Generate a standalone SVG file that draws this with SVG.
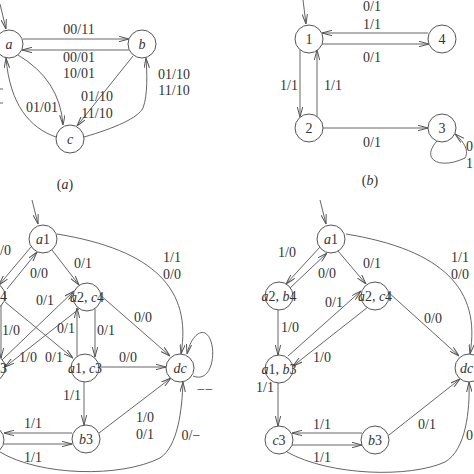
<svg xmlns="http://www.w3.org/2000/svg" width="474" height="474" viewBox="0 0 474 474">
<style>
.n{fill:#fff;stroke:#555;stroke-width:1}
.e{fill:none;stroke:#666;stroke-width:1}
.t{font-family:"Liberation Serif","Times New Roman",serif;font-size:14px;fill:#333;text-anchor:middle}
.s{text-anchor:start}
.i{font-style:italic}
</style>
<defs>
<marker id="ah" markerUnits="userSpaceOnUse" viewBox="0 0 10 6" refX="10" refY="3" markerWidth="10" markerHeight="6" orient="auto">
<path d="M0,0.3 L10,3 L0,5.7" fill="none" stroke="#555" stroke-width="1"/>
</marker>
</defs>
<rect width="474" height="474" fill="#fff"/>

<g id="connectors">
<!-- panel a -->
<path class="e" d="M0,4 L6,29" marker-end="url(#ah)"/>
<path class="e" d="M23,39 L129,39" marker-end="url(#ah)"/>
<path class="e" d="M129,50 L22,50" marker-end="url(#ah)"/>
<path class="e" d="M18,55 Q60,80 63,125" marker-end="url(#ah)"/>
<path class="e" d="M56,137 C30,128 10,105 6,58" marker-end="url(#ah)"/>
<path class="e" d="M133,56 L77,126" marker-end="url(#ah)"/>
<path class="e" d="M84,137 C115,128 138,118 143,108 C148,95 147,72 146,58" marker-end="url(#ah)"/>
<path class="e" d="M0,89 L3,89 M0,103 L3,103" stroke="#999"/>
<!-- panel b -->
<path class="e" d="M303,0 L306,24" marker-end="url(#ah)"/>
<path class="e" d="M428,33 L322,33" marker-end="url(#ah)"/>
<path class="e" d="M322,44 L429,44" marker-end="url(#ah)"/>
<path class="e" d="M300,50 L300,117" marker-end="url(#ah)"/>
<path class="e" d="M317,117 L317,50" marker-end="url(#ah)"/>
<path class="e" d="M323,128 L428,128" marker-end="url(#ah)"/>
<path class="e" d="M437,141 C420,160 440,170 465,158 C470,150 462,140 455,134" marker-end="url(#ah)"/>
<!-- panel c -->
<path class="e" d="M32,200 L38,224" marker-end="url(#ah)"/>
<path class="e" d="M31,247 L-1,285" marker-end="url(#ah)"/>
<path class="e" d="M7,289 L37,252" marker-end="url(#ah)"/>
<path class="e" d="M52,250 L79,285" marker-end="url(#ah)"/>
<path class="e" d="M57,234 C155,250 192,290 181,354" marker-end="url(#ah)"/>
<path class="e" d="M5,302 L73,358" marker-end="url(#ah)"/>
<path class="e" d="M2,360 L74,291" marker-end="url(#ah)"/>
<path class="e" d="M79,309 L5,367" marker-end="url(#ah)"/>
<path class="e" d="M1,303 L1,358" marker-end="url(#ah)"/>
<path class="e" d="M77,356 L77,308" marker-end="url(#ah)"/>
<path class="e" d="M95,309 L95,357" marker-end="url(#ah)"/>
<path class="e" d="M99,294 L170,356" marker-end="url(#ah)"/>
<path class="e" d="M99,367 L166,367" marker-end="url(#ah)"/>
<path class="e" d="M193,376 C215,385 218,340 205,333 C198,330 190,340 187,354" marker-end="url(#ah)"/>
<path class="e" d="M84,382 L84,425" marker-end="url(#ah)"/>
<path class="e" d="M72,433 L4,433" marker-end="url(#ah)"/>
<path class="e" d="M4,444 L72,444" marker-end="url(#ah)"/>
<path class="e" d="M99,433 L171,378" marker-end="url(#ah)"/>
<path class="e" d="M0,452 C40,476 120,478 160,458 C178,446 182,410 183,382" marker-end="url(#ah)"/>
<!-- panel d -->
<path class="e" d="M320,200 L326,224" marker-end="url(#ah)"/>
<path class="e" d="M320,247 L286,284" marker-end="url(#ah)"/>
<path class="e" d="M290,288 L327,253" marker-end="url(#ah)"/>
<path class="e" d="M338,251 L366,284" marker-end="url(#ah)"/>
<path class="e" d="M346,234 C444,250 481,290 470,354" marker-end="url(#ah)"/>
<path class="e" d="M388,292 L459,356" marker-end="url(#ah)"/>
<path class="e" d="M278,310 L278,355" marker-end="url(#ah)"/>
<path class="e" d="M288,356 L361,291" marker-end="url(#ah)"/>
<path class="e" d="M368,307 L293,366" marker-end="url(#ah)"/>
<path class="e" d="M278,383 L278,426" marker-end="url(#ah)"/>
<path class="e" d="M362,433 L292,433" marker-end="url(#ah)"/>
<path class="e" d="M292,445 L362,445" marker-end="url(#ah)"/>
<path class="e" d="M389,435 L460,379" marker-end="url(#ah)"/>
<path class="e" d="M287,452 C330,476 410,478 445,462 C466,450 470,410 469,382" marker-end="url(#ah)"/>
</g>

<g id="edge-labels" class="t">
<!-- a -->
<text class="t" x="79" y="34">00/11</text>
<text class="t" x="79" y="62">00/01</text>
<text class="t" x="79" y="78">10/01</text>
<text class="t" x="42" y="112">01/01</text>
<text class="t" x="97" y="101">01/10</text>
<text class="t" x="97" y="118">11/10</text>
<text class="t" x="174" y="79">01/10</text>
<text class="t" x="174" y="95">11/10</text>
<text class="t" x="65" y="189">(<tspan class="i">a</tspan>)</text>
<!-- b -->
<text class="t" x="372" y="11">0/1</text>
<text class="t" x="372" y="29">1/1</text>
<text class="t" x="372" y="62">0/1</text>
<text class="t" x="289" y="90">1/1</text>
<text class="t" x="333" y="90">1/1</text>
<text class="t" x="372" y="147">0/1</text>
<text class="t s" x="466" y="151">0</text>
<text class="t s" x="466" y="168">1</text>
<text class="t" x="370" y="185">(<tspan class="i">b</tspan>)</text>
<!-- c -->
<text class="t s" x="0" y="255">/0</text>
<text class="t" x="39" y="278">0/0</text>
<text class="t" x="83" y="268">0/1</text>
<text class="t" x="172" y="262">1/1</text>
<text class="t" x="172" y="279">0/0</text>
<text class="t" x="45" y="305">0/1</text>
<text class="t" x="66" y="333">0/1</text>
<text class="t" x="106" y="335">0/1</text>
<text class="t s" x="2" y="335">1/0</text>
<text class="t" x="28" y="362">1/0</text>
<text class="t" x="54" y="362">0/1</text>
<text class="t" x="143" y="322">0/0</text>
<text class="t" x="128" y="362">0/0</text>
<text class="t" x="205" y="394">−−</text>
<text class="t" x="72" y="400">1/1</text>
<text class="t" x="33" y="428">1/1</text>
<text class="t" x="33" y="462">1/1</text>
<text class="t" x="145" y="422">1/0</text>
<text class="t" x="145" y="439">0/1</text>
<text class="t" x="191" y="440">0/−</text>
<!-- d -->
<text class="t" x="287" y="257">1/0</text>
<text class="t" x="327" y="278">0/0</text>
<text class="t" x="372" y="268">0/1</text>
<text class="t" x="460" y="262">1/1</text>
<text class="t" x="460" y="279">0/0</text>
<text class="t" x="334" y="307">0/1</text>
<text class="t" x="433" y="323">0/0</text>
<text class="t" x="290" y="332">1/0</text>
<text class="t" x="322" y="362">1/0</text>
<text class="t" x="265" y="392">1/1</text>
<text class="t" x="322" y="429">1/1</text>
<text class="t" x="322" y="462">1/1</text>
<text class="t" x="427" y="429">0/1</text>
<text class="t s" x="466" y="440">0</text>
</g>

<g id="node-a"><circle class="n" cx="9" cy="44" r="14"/><text class="t i" x="9" y="49">a</text></g>
<g id="node-b"><circle class="n" cx="142" cy="44" r="14"/><text class="t i" x="142" y="49">b</text></g>
<g id="node-c"><circle class="n" cx="70" cy="139" r="14"/><text class="t i" x="70" y="144">c</text></g>

<g id="node-1"><circle class="n" cx="309" cy="39" r="14"/><text class="t" x="309" y="44">1</text></g>
<g id="node-4"><circle class="n" cx="442" cy="39" r="14"/><text class="t" x="442" y="44">4</text></g>
<g id="node-2"><circle class="n" cx="309" cy="128" r="14"/><text class="t" x="309" y="133">2</text></g>
<g id="node-3"><circle class="n" cx="442" cy="128" r="14"/><text class="t" x="442" y="133">3</text></g>

<g id="c-a1"><circle class="n" cx="43" cy="239" r="14"/><text class="t" x="43" y="244"><tspan class="i">a</tspan>1</text></g>
<g id="c-a2b4"><circle class="n" cx="-9" cy="296" r="14"/><text class="t s" x="0" y="301">4</text></g>
<g id="c-a2c4"><circle class="n" cx="87" cy="297" r="14"/><text class="t" x="87" y="302"><tspan class="i">a</tspan>2, <tspan class="i">c</tspan>4</text></g>
<g id="c-a1b3"><circle class="n" cx="-9" cy="368" r="14"/><text class="t s" x="0" y="373">3</text></g>
<g id="c-a1c3"><circle class="n" cx="85" cy="368" r="14"/><text class="t" x="85" y="373"><tspan class="i">a</tspan>1, <tspan class="i">c</tspan>3</text></g>
<g id="c-dc"><circle class="n" cx="180" cy="368" r="14"/><text class="t i" x="180" y="373">dc</text></g>
<g id="c-b3"><circle class="n" cx="86" cy="439" r="14"/><text class="t" x="86" y="444"><tspan class="i">b</tspan>3</text></g>
<g id="c-c3"><circle class="n" cx="-10" cy="440" r="14"/></g>

<g id="d-a1"><circle class="n" cx="331" cy="239" r="14"/><text class="t" x="331" y="244"><tspan class="i">a</tspan>1</text></g>
<g id="d-a2b4"><circle class="n" cx="279" cy="296" r="14"/><text class="t" x="279" y="301"><tspan class="i">a</tspan>2, <tspan class="i">b</tspan>4</text></g>
<g id="d-a2c4"><circle class="n" cx="375" cy="296" r="14"/><text class="t" x="375" y="301"><tspan class="i">a</tspan>2, <tspan class="i">c</tspan>4</text></g>
<g id="d-a1b3"><circle class="n" cx="279" cy="369" r="14"/><text class="t" x="279" y="374"><tspan class="i">a</tspan>1, <tspan class="i">b</tspan>3</text></g>
<g id="d-c3"><circle class="n" cx="279" cy="440" r="14"/><text class="t" x="279" y="445"><tspan class="i">c</tspan>3</text></g>
<g id="d-b3"><circle class="n" cx="375" cy="440" r="14"/><text class="t" x="375" y="445"><tspan class="i">b</tspan>3</text></g>
<g id="d-dc"><circle class="n" cx="469" cy="368" r="14"/><text class="t s i" x="460" y="373">dc</text></g>
</svg>
